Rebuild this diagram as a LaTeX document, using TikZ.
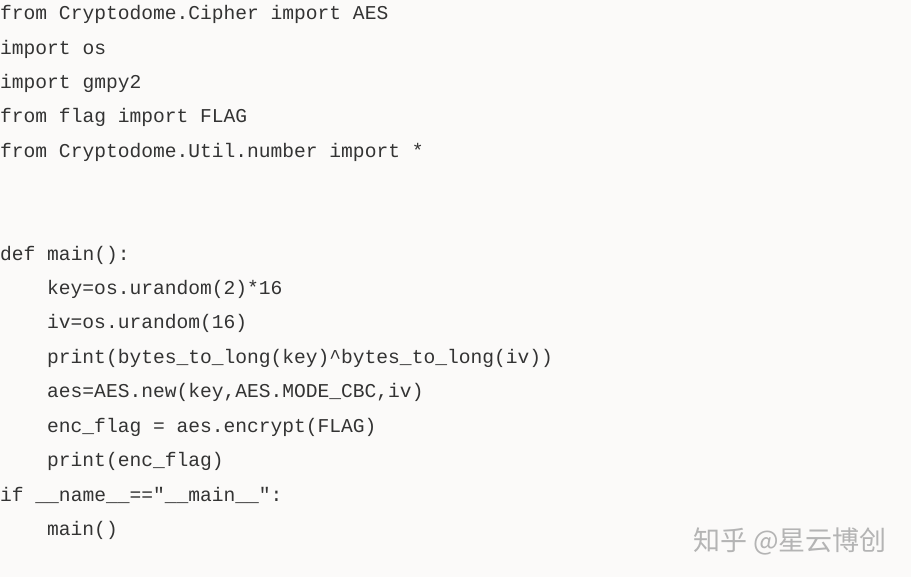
\documentclass[tikz,border=0pt]{standalone}
\usepackage{fontspec}
\setmonofont{Liberation Mono}
\newfontfamily\cjk{Noto Sans CJK SC}
\definecolor{bgc}{HTML}{FBFAF9}
\definecolor{codec}{HTML}{333333}
\definecolor{wmc}{HTML}{B4B4B4}
\begin{document}
\begin{tikzpicture}[x=1pt,y=-1pt,
  code/.style={anchor=base west,inner sep=0pt,text=codec,font=\ttfamily\fontsize{19.6}{20}\selectfont}]
\fill[bgc] (0,0) rectangle (911,577);
\useasboundingbox (0,0) rectangle (911,577);
\node[code] (l1) at (0,20) {\detokenize{from Cryptodome.Cipher import AES}};
\node[code] (l2) at (0,55) {\detokenize{import os}};
\node[code] (l3) at (0,89) {\detokenize{import gmpy2}};
\node[code] (l4) at (0,123) {\detokenize{from flag import FLAG}};
\node[code] (l5) at (0,158) {\detokenize{from Cryptodome.Util.number import *}};
\node[code] (l6) at (0,261) {\detokenize{def main():}};
\node[code] (l7) at (47,295) {\detokenize{key=os.urandom(2)*16}};
\node[code] (l8) at (47,329) {\detokenize{iv=os.urandom(16)}};
\node[code] (l9) at (47,364) {\detokenize{print(bytes_to_long(key)^bytes_to_long(iv))}};
\node[code] (l10) at (47,398) {\detokenize{aes=AES.new(key,AES.MODE_CBC,iv)}};
\node[code] (l11) at (47,432) {\detokenize{enc_flag = aes.encrypt(FLAG)}};
\node[code] (l12) at (47,466) {\detokenize{print(enc_flag)}};
\node[code] (l13) at (0,501) {\detokenize{if __name__=="__main__":}};
\node[code] (l14) at (47,535) {\detokenize{main()}};
\node[anchor=base west,inner sep=0pt,text=wmc,font=\cjk\fontsize{27}{29}\selectfont] (wm) at (693,550) {知乎 @星云博创};
\end{tikzpicture}
\end{document}
